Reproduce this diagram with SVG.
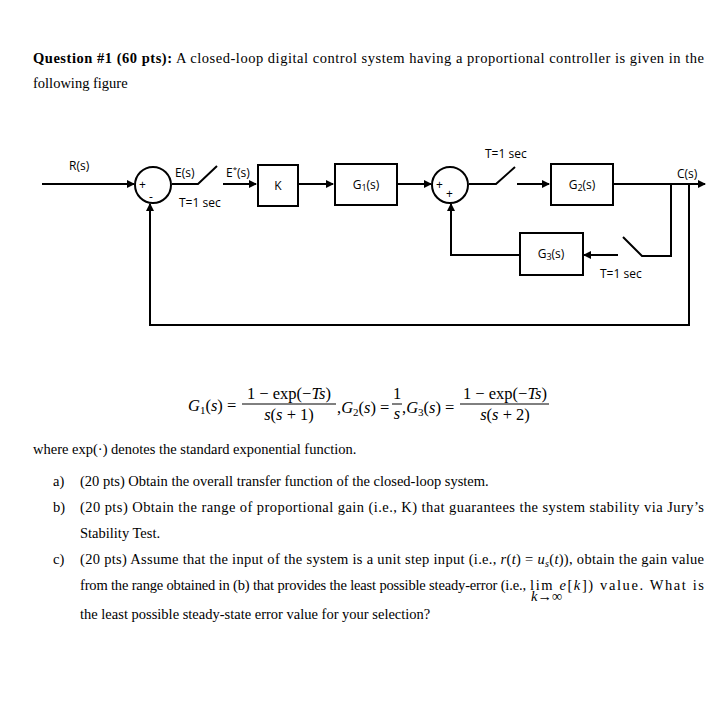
<svg xmlns="http://www.w3.org/2000/svg" width="728" height="701" viewBox="0 0 728 701">
<style>
.t{font-family:"Liberation Serif",serif;font-size:14.5px;fill:#000}
.d{font-family:"Open Sans","DejaVu Sans",sans-serif;font-size:12px;fill:#000}
.m{font-family:"Liberation Serif",serif;font-size:16.5px;fill:#000}
.i{font-style:italic}
.b{fill:#fff;stroke:#000;stroke-width:2}
.l{fill:none;stroke:#000;stroke-width:2}
</style>
<defs><marker id="a" markerWidth="8" markerHeight="8" refX="7" refY="4" orient="auto" markerUnits="userSpaceOnUse"><path d="M0,0L8,4L0,8z" fill="#000"/></marker></defs>
<rect width="728" height="701" fill="#fff"/>
<text class="t" x="33" y="63" textLength="671" lengthAdjust="spacing"><tspan font-weight="bold">Question #1 (60 pts):</tspan> A closed-loop digital control system having a proportional controller is given in the</text>
<text class="t" x="33" y="88">following figure</text>
<g id="connectors">
<path class="l" d="M42,184H134" marker-end="url(#a)"/>
<path class="l" d="M172,184H198L217,166"/>
<path class="l" d="M223,184H256" marker-end="url(#a)"/>
<path class="l" d="M298,184H333" marker-end="url(#a)"/>
<path class="l" d="M397,184H431" marker-end="url(#a)"/>
<path class="l" d="M469,184H496L515,167"/>
<path class="l" d="M517,184H549" marker-end="url(#a)"/>
<path class="l" d="M613,184H705" marker-end="url(#a)"/>
<path class="l" d="M671,184V256H642L623,237"/>
<path class="l" d="M618,255H584" marker-end="url(#a)"/>
<path class="l" d="M520,255H451V204" marker-end="url(#a)"/>
<path class="l" d="M689,184V325H150V204" marker-end="url(#a)"/>
</g>
<g id="sum1"><circle class="b" cx="153" cy="185" r="18"/><text class="d" x="139" y="189" font-size="10">+</text><text class="d" x="149" y="201" font-size="10">-</text></g>
<g id="sum2"><circle class="b" cx="450" cy="185" r="18"/><text class="d" x="436" y="189" font-size="10">+</text><text class="d" x="446" y="198" font-size="10">+</text></g>
<g id="K"><rect class="b" x="258" y="165" width="40" height="41"/><text class="d" x="278" y="190" text-anchor="middle">K</text></g>
<g id="G1"><rect class="b" x="335" y="164" width="62" height="41"/><text class="d" x="366" y="189" text-anchor="middle">G<tspan font-size="9" dy="2">1</tspan><tspan dy="-2">(s)</tspan></text></g>
<g id="G2"><rect class="b" x="551" y="164" width="62" height="41"/><text class="d" x="582" y="189" text-anchor="middle">G<tspan font-size="9" dy="2">2</tspan><tspan dy="-2">(s)</tspan></text></g>
<g id="G3"><rect class="b" x="520" y="233" width="63" height="42"/><text class="d" x="551" y="258" text-anchor="middle">G<tspan font-size="9" dy="2">3</tspan><tspan dy="-2">(s)</tspan></text></g>
<g id="labels">
<text class="d" x="69" y="170">R(s)</text>
<text class="d" x="175" y="177">E(s)</text>
<text class="d" x="226" y="177">E<tspan font-size="8" dy="-5">*</tspan><tspan dy="5">(s)</tspan></text>
<text class="d" x="179" y="207">T=1 sec</text>
<text class="d" x="485" y="158">T=1 sec</text>
<text class="d" x="677" y="178">C(s)</text>
<text class="d" x="600" y="278">T=1 sec</text>
</g>
<g id="eq" class="m">
<text x="188" y="411"><tspan class="i">G</tspan><tspan font-size="11" dy="3">1</tspan><tspan dy="-3">(</tspan><tspan class="i">s</tspan>) =</text>
<text x="289" y="399" text-anchor="middle">1 − exp(−<tspan class="i">Ts</tspan>)</text>
<line x1="242" y1="404" x2="336" y2="404" stroke="#000"/>
<text x="289" y="420" text-anchor="middle"><tspan class="i">s</tspan>(<tspan class="i">s</tspan> + 1)</text>
<text x="337" y="413">,<tspan class="i">G</tspan><tspan font-size="11" dy="3">2</tspan><tspan dy="-3">(</tspan><tspan class="i">s</tspan>) =</text>
<text x="397" y="399" text-anchor="middle">1</text>
<line x1="392" y1="404" x2="402" y2="404" stroke="#000"/>
<text x="397" y="419" text-anchor="middle" class="i">s</text>
<text x="402" y="413">,<tspan class="i">G</tspan><tspan font-size="11" dy="3">3</tspan><tspan dy="-3">(</tspan><tspan class="i">s</tspan>) =</text>
<text x="505" y="399" text-anchor="middle">1 − exp(−<tspan class="i">Ts</tspan>)</text>
<line x1="460" y1="404" x2="549" y2="404" stroke="#000"/>
<text x="505" y="420" text-anchor="middle"><tspan class="i">s</tspan>(<tspan class="i">s</tspan> + 2)</text>
</g>
<text class="t" x="33" y="454">where exp(·) denotes the standard exponential function.</text>
<text class="t" x="53" y="486">a)</text><text class="t" x="80" y="486">(20 pts) Obtain the overall transfer function of the closed-loop system.</text>
<text class="t" x="53" y="512">b)</text><text class="t" x="80" y="512" textLength="624" lengthAdjust="spacing">(20 pts) Obtain the range of proportional gain (i.e., K) that guarantees the system stability via Jury’s</text>
<text class="t" x="80" y="538">Stability Test.</text>
<text class="t" x="53" y="564">c)</text><text class="t" x="80" y="564" textLength="624" lengthAdjust="spacing">(20 pts) Assume that the input of the system is a unit step input (i.e., <tspan class="i">r</tspan>(<tspan class="i">t</tspan>) = <tspan class="i">u</tspan><tspan class="i" font-size="10" dy="3">s</tspan><tspan dy="-3">(</tspan><tspan class="i">t</tspan>)), obtain the gain value</text>
<text class="t" x="80" y="590" textLength="446" lengthAdjust="spacing">from the range obtained in (b) that provides the least possible steady-error (i.e.,</text>
<text class="t" x="530" y="590" textLength="174" lengthAdjust="spacing">lim <tspan class="i">e</tspan>[<tspan class="i">k</tspan>]) value. What is</text>
<text class="t" x="531" y="601" font-size="9"><tspan class="i">k</tspan>→∞</text>
<text class="t" x="80" y="619">the least possible steady-state error value for your selection?</text>
</svg>
